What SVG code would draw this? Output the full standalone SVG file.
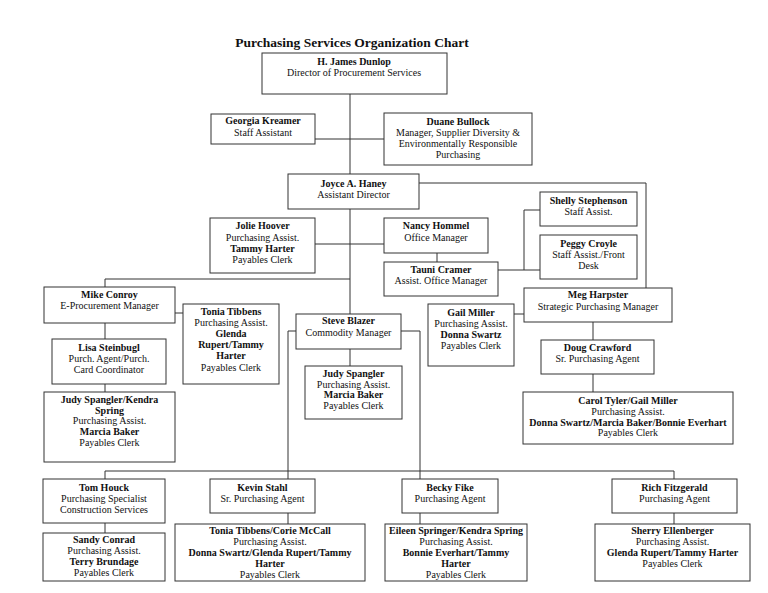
<svg xmlns="http://www.w3.org/2000/svg" width="768" height="593" viewBox="0 0 768 593">
<style>
rect{fill:#fff;stroke:#333;stroke-width:1}
text{font-family:"Liberation Serif","Times New Roman",serif;font-size:10px;text-anchor:middle;fill:#111}
.b{font-weight:bold}
.t{font-size:13.5px;font-weight:bold}
#connectors path{fill:none;stroke:#333;stroke-width:1}
</style>
<rect x="0" y="0" width="768" height="593" style="fill:#fff;stroke:none"/>
<text class="t" x="352" y="47">Purchasing Services Organization Chart</text>
<g id="connectors">
<path d="M350 94V174"/>
<path d="M315 139H384"/>
<path d="M419 183H646V288"/>
<path d="M350 209V314"/>
<path d="M315 244H384"/>
<path d="M437 253V262"/>
<path d="M498 270H540M524 210V270M524 210H540"/>
<path d="M350 279H105V287"/>
<path d="M105 323V339M105 384V392"/>
<path d="M175 313H183"/>
<path d="M350 349V366"/>
<path d="M296 331H288V479"/>
<path d="M401 331H420V479"/>
<path d="M105 479V471H674V479"/>
<path d="M105 523V533"/>
<path d="M288 513V524"/>
<path d="M420 513V524"/>
<path d="M674 513V524"/>
<path d="M514 314H524"/>
<path d="M593 322V340M593 374V392"/>
</g>
<g id="dunlop"><rect x="262" y="53" width="185" height="41"/><text class="b" x="354" y="65">H. James Dunlop</text><text x="354" y="76">Director of Procurement Services</text></g>
<g id="kreamer"><rect x="211" y="114" width="104" height="30"/><text class="b" x="263" y="124">Georgia Kreamer</text><text x="263" y="136">Staff Assistant</text></g>
<g id="bullock"><rect x="384" y="113" width="148" height="52"/><text class="b" x="458" y="125">Duane Bullock</text><text x="458" y="136">Manager, Supplier Diversity &amp;</text><text x="458" y="147">Environmentally Responsible</text><text x="458" y="158">Purchasing</text></g>
<g id="haney"><rect x="288" y="174" width="131" height="35"/><text class="b" x="353.5" y="187">Joyce A. Haney</text><text x="353.5" y="198">Assistant Director</text></g>
<g id="hoover"><rect x="210" y="218" width="105" height="55"/><text class="b" x="262.5" y="229">Jolie Hoover</text><text x="262.5" y="241">Purchasing Assist.</text><text class="b" x="262.5" y="252">Tammy Harter</text><text x="262.5" y="263">Payables Clerk</text></g>
<g id="hommel"><rect x="384" y="218" width="104" height="35"/><text class="b" x="436" y="229">Nancy Hommel</text><text x="436" y="241">Office Manager</text></g>
<g id="cramer"><rect x="384" y="262" width="114" height="34"/><text class="b" x="441" y="273">Tauni Cramer</text><text x="441" y="284">Assist. Office Manager</text></g>
<g id="stephenson"><rect x="540" y="192" width="97" height="34"/><text class="b" x="588.5" y="204">Shelly Stephenson</text><text x="588.5" y="215">Staff Assist.</text></g>
<g id="croyle"><rect x="540" y="235" width="97" height="44"/><text class="b" x="588.5" y="247">Peggy Croyle</text><text x="588.5" y="258">Staff Assist./Front</text><text x="588.5" y="269">Desk</text></g>
<g id="conroy"><rect x="44" y="287" width="131" height="36"/><text class="b" x="109.5" y="298">Mike Conroy</text><text x="109.5" y="309">E-Procurement Manager</text></g>
<g id="tibbens"><rect x="183" y="304" width="96" height="80"/><text class="b" x="231" y="315">Tonia Tibbens</text><text x="231" y="326">Purchasing Assist.</text><text class="b" x="231" y="337">Glenda</text><text class="b" x="231" y="348">Rupert/Tammy</text><text class="b" x="231" y="359">Harter</text><text x="231" y="371">Payables Clerk</text></g>
<g id="steinbugl"><rect x="52" y="339" width="114" height="45"/><text class="b" x="109" y="351">Lisa Steinbugl</text><text x="109" y="362">Purch. Agent/Purch.</text><text x="109" y="373">Card Coordinator</text></g>
<g id="spangler-spring"><rect x="44" y="392" width="131" height="70"/><text class="b" x="109.5" y="403">Judy Spangler/Kendra</text><text class="b" x="109.5" y="414">Spring</text><text x="109.5" y="424">Purchasing Assist.</text><text class="b" x="109.5" y="435">Marcia Baker</text><text x="109.5" y="446">Payables Clerk</text></g>
<g id="blazer"><rect x="296" y="314" width="105" height="35"/><text class="b" x="348.5" y="324">Steve Blazer</text><text x="348.5" y="336">Commodity Manager</text></g>
<g id="spangler"><rect x="305" y="366" width="97" height="53"/><text class="b" x="353.5" y="377">Judy Spangler</text><text x="353.5" y="388">Purchasing Assist.</text><text class="b" x="353.5" y="398">Marcia Baker</text><text x="353.5" y="409">Payables Clerk</text></g>
<g id="miller"><rect x="428" y="304" width="86" height="62"/><text class="b" x="471" y="316">Gail Miller</text><text x="471" y="327">Purchasing Assist.</text><text class="b" x="471" y="338">Donna Swartz</text><text x="471" y="349">Payables Clerk</text></g>
<g id="harpster"><rect x="524" y="288" width="148" height="34"/><text class="b" x="598" y="298">Meg Harpster</text><text x="598" y="310">Strategic Purchasing Manager</text></g>
<g id="crawford"><rect x="541" y="340" width="113" height="34"/><text class="b" x="597.5" y="351">Doug Crawford</text><text x="597.5" y="362">Sr. Purchasing Agent</text></g>
<g id="tyler"><rect x="523" y="392" width="210" height="52"/><text class="b" x="628" y="404">Carol Tyler/Gail Miller</text><text x="628" y="415">Purchasing Assist.</text><text class="b" x="628" y="426">Donna Swartz/Marcia Baker/Bonnie Everhart</text><text x="628" y="436">Payables Clerk</text></g>
<g id="houck"><rect x="43" y="479" width="122" height="44"/><text class="b" x="104" y="491">Tom Houck</text><text x="104" y="502">Purchasing Specialist</text><text x="104" y="513">Construction Services</text></g>
<g id="stahl"><rect x="210" y="479" width="105" height="34"/><text class="b" x="262.5" y="491">Kevin Stahl</text><text x="262.5" y="502">Sr. Purchasing Agent</text></g>
<g id="fike"><rect x="402" y="479" width="96" height="34"/><text class="b" x="450" y="491">Becky Fike</text><text x="450" y="502">Purchasing Agent</text></g>
<g id="fitzgerald"><rect x="612" y="479" width="125" height="34"/><text class="b" x="674.5" y="491">Rich Fitzgerald</text><text x="674.5" y="502">Purchasing Agent</text></g>
<g id="conrad"><rect x="43" y="533" width="122" height="48"/><text class="b" x="104" y="543">Sandy Conrad</text><text x="104" y="554">Purchasing Assist.</text><text class="b" x="104" y="565">Terry Brundage</text><text x="104" y="576">Payables Clerk</text></g>
<g id="tibbens-mccall"><rect x="175" y="524" width="190" height="57"/><text class="b" x="270" y="534">Tonia Tibbens/Corie McCall</text><text x="270" y="545">Purchasing Assist.</text><text class="b" x="270" y="556">Donna Swartz/Glenda Rupert/Tammy</text><text class="b" x="270" y="567">Harter</text><text x="270" y="578">Payables Clerk</text></g>
<g id="springer"><rect x="385" y="524" width="142" height="57"/><text class="b" x="456" y="534">Eileen Springer/Kendra Spring</text><text x="456" y="545">Purchasing Assist.</text><text class="b" x="456" y="556">Bonnie Everhart/Tammy</text><text class="b" x="456" y="567">Harter</text><text x="456" y="578">Payables Clerk</text></g>
<g id="ellenberger"><rect x="595" y="524" width="155" height="57"/><text class="b" x="672.5" y="534">Sherry Ellenberger</text><text x="672.5" y="545">Purchasing Assist.</text><text class="b" x="672.5" y="556">Glenda Rupert/Tammy Harter</text><text x="672.5" y="567">Payables Clerk</text></g>
</svg>
